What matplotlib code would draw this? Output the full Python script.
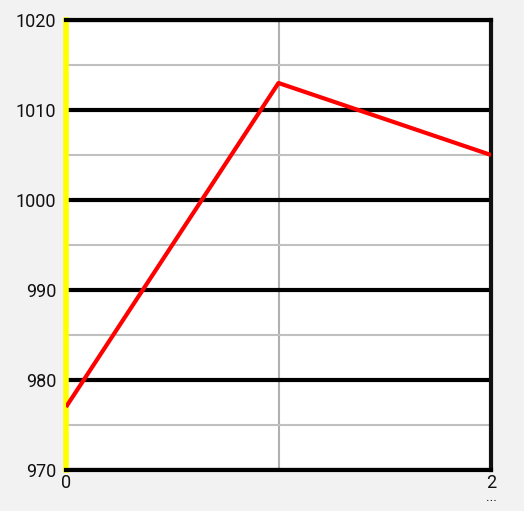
import matplotlib.pyplot as plt
from matplotlib.ticker import MultipleLocator

# données
x_vals = [0, 1, 2]
y_vals = [977, 1013, 1005]
x_ticks = [0, 2]
x_labels = ['0', '2']
y_ticks = [970, 980, 990, 1000, 1010, 1020]

plt.rcParams['font.family'] = ['Roboto', 'DejaVu Sans']

fig = plt.figure(figsize=(5.24, 5.11), dpi=100, facecolor='#f2f2f2')
ax = fig.add_axes([66 / 524, 1 - 470 / 511, 425 / 524, 450 / 511])
ax.set_facecolor('white')

ax.set_xlim(0, 2)
ax.set_ylim(970, 1020)

# grille
ax.yaxis.set_minor_locator(MultipleLocator(5))
ax.xaxis.set_minor_locator(MultipleLocator(1))
ax.grid(True, which='minor', axis='y', color='#c0c0c0', linewidth=1.5)
ax.grid(True, which='minor', axis='x', color='#b0b0b0', linewidth=1.5)
ax.grid(True, which='major', axis='y', color='black', linewidth=3)
ax.set_axisbelow(True)

ax.plot(x_vals, y_vals, color='red', linewidth=3, solid_capstyle='butt', zorder=3)

ax.set_xticks(x_ticks)
ax.set_xticklabels(x_labels)
ax.set_yticks(y_ticks)
ax.tick_params(which='both', length=0, labelsize=13, colors='#111111')
ax.tick_params(axis='y', pad=7)
ax.tick_params(axis='x', pad=3)

# points de suspension sous le "2"
ax.text(2, -0.068, '...', transform=ax.get_xaxis_transform(),
        ha='center', va='baseline', fontsize=10, color='#111111')

# bordures
ax.spines['left'].set_color('yellow')
ax.spines['left'].set_linewidth(4)
for side in ['right', 'top', 'bottom']:
    ax.spines[side].set_color('black')
    ax.spines[side].set_linewidth(3)
ax.spines['right'].set_color('#111111')

fig.savefig('out.png', dpi=100, facecolor=fig.get_facecolor())
